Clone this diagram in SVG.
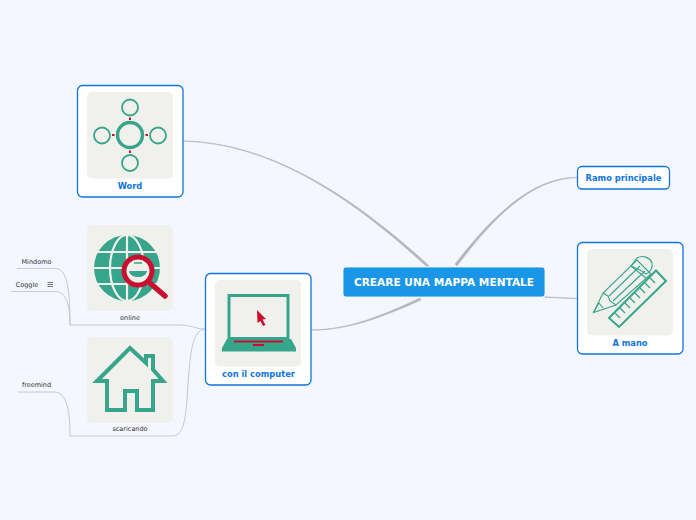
<svg xmlns="http://www.w3.org/2000/svg" width="696" height="520" viewBox="0 0 696 520">
<style>
text{font-family:"DejaVu Sans",Verdana,sans-serif;text-anchor:middle}
.box{fill:#fff;stroke:#0f75dc;stroke-width:1.3}
.pic{fill:#f0f0ec}
.lbl{font-size:8.300px;font-weight:bold;fill:#0f75dc}
.sub{font-size:6.500px;fill:#333}
.main{fill:#b4b6bc;stroke:#b4b6bc;stroke-width:.5;stroke-linejoin:round}
.thin{fill:none;stroke:#c6c9d2;stroke-width:1}
.g{fill:none;stroke:#37a58c}
.r{fill:#c8102e;stroke:none}
</style>
<rect width="696" height="520" fill="#f4f7ff"/>
<g id="connectors">
<path class="main" d="M183 140.800C270 142.800 350 194 429 265.500L427 267C350 196 270 143.300 183 141.300Z"/>
<path class="main" d="M455 264C490 219 530 177.300 577 177.300V177.700C530 178.500 491 221 457 266Z"/>
<path class="main" d="M545 296.800L577 298.200V298.800L545 297.400Z"/>
<path class="main" d="M311 329.800C350 329.800 385 314 420 298L421 300C385 316 350 330.300 311 330.300Z"/>
<path class="thin" d="M205 329C195 329 192 325 180 325L70 325"/>
<path class="thin" d="M205 329C192 331 190 350 187 400C185 425 182 436 172 436L70 436"/>
<path class="thin" d="M17 268.500H56C66 269 70 285 70 325"/>
<path class="thin" d="M11 291.500H56C66 292 70 305 70 325"/>
<path class="thin" d="M18 392H55C65 393 70 405 70 436"/>
</g>
<g id="central"><rect x="343" y="267" width="202" height="30" rx="3" fill="#1a96e8" stroke="#fff" stroke-width=".8"/><text x="444" y="286" font-size="10.600" font-weight="bold" fill="#fff">CREARE UNA MAPPA MENTALE</text></g>
<g id="word"><rect class="box" x="77.500" y="85.500" width="105.500" height="111.500" rx="5"/><rect class="pic" x="87" y="92" width="86" height="86.500" rx="5"/>
<g class="g" stroke-width="1.800"><circle cx="130" cy="107.500" r="8"/><circle cx="130" cy="163" r="8"/><circle cx="102" cy="135.500" r="8"/><circle cx="158" cy="135.500" r="8"/></g>
<circle class="g" stroke-width="3.400" cx="130" cy="135" r="12.500"/>
<g class="r"><rect x="129" y="117.500" width="2" height="2.500"/><rect x="129" y="150.500" width="2" height="2.500"/><rect x="112" y="134" width="2.500" height="2"/><rect x="145.500" y="134" width="2.500" height="2"/></g>
<text class="lbl" x="130" y="189">Word</text></g>
<g id="ramo"><rect class="box" x="577.500" y="166.500" width="92" height="22.500" rx="4.500"/><text class="lbl" x="623.500" y="181">Ramo principale</text></g>
<g id="amano"><rect class="box" x="577.500" y="242.500" width="105.500" height="111.500" rx="5"/><rect class="pic" x="587" y="249" width="86" height="86.500" rx="5"/>
<g class="g" stroke-width="1.100"><path d="M593.500 312.500L603 293L637 260L651 274L616 305Z"/><path d="M603 293L608 296L610 301L616 305M593.500 312.500L599 303L603 308"/><path d="M609 296L640 266M613 301L645 271"/><path d="M631 266L637 258C642 255 650 257 652 263C653 268 650 273 646 274L640 270Z"/><path d="M631 266L646 278"/></g>
<path class="g" stroke-width="2" d="M609 318L656 270.500L666 281L619 327Z"/>
<path class="g" stroke-width="1.400" d="M615 313L620 318M620 308L625 313M625 303L630 308M630 298L635 303M635 293L640 298M640 288L645 293M645 283L650 288M650 278L655 283"/>
<text class="lbl" x="630" y="346">A mano</text></g>
<g id="computer"><rect class="box" x="205.500" y="273.500" width="105.500" height="111.500" rx="5"/><rect class="pic" x="215" y="280" width="86" height="86.500" rx="5"/>
<rect x="229" y="295.500" width="59" height="43" fill="#f0f0ec" stroke="#37a58c" stroke-width="3"/>
<path d="M227 339H291L296 348V351.500H222V348Z" fill="#37a58c"/>
<rect class="r" x="234" y="340.500" width="49" height="2"/><rect class="r" x="253" y="344" width="11" height="2"/>
<path class="r" d="M257 310L266 319L262.500 319.500L265.500 325L263 326L260.500 321L257.500 323Z"/>
<text class="lbl" x="258.500" y="377">con il computer</text></g>
<g id="online"><rect class="pic" x="87" y="225" width="86" height="86" rx="5"/>
<circle cx="127" cy="268" r="33" fill="#37a58c"/>
<g fill="none" stroke="#f0f0ec" stroke-width="2.200"><ellipse cx="127" cy="268" rx="17" ry="33"/><path d="M127 234V302M93 268H161M96 252H158M96 284H158"/></g>
<circle cx="138" cy="271" r="16" fill="#f0f0ec"/><circle cx="138" cy="271" r="14" fill="#f0f0ec" stroke="#c8102e" stroke-width="5"/>
<path d="M129 271H147C146 279 130 279 129 271Z" fill="#37a58c"/><path d="M134 263H142" stroke="#37a58c" stroke-width="1.500"/>
<path d="M150 283L165 296" stroke="#c8102e" stroke-width="5.500" stroke-linecap="round"/>
<text class="sub" x="130" y="320">online</text></g>
<g id="scaricando"><rect class="pic" x="87" y="337" width="86" height="86" rx="5"/>
<path d="M97 381L130 348L146 363V356H153V369.500L163 381H153V410H137V391H125V410H107V381Z" fill="none" stroke="#37a58c" stroke-width="4"/>
<text class="sub" x="130" y="431">scaricando</text></g>
<g id="mindomo"><text class="sub" x="36.500" y="264">Mindomo</text></g>
<g id="coggle"><text class="sub" x="27" y="287">Coggle</text><path d="M47.500 282.500H53M47.500 284.500H53M47.500 286.500H53" stroke="#555" stroke-width=".8" fill="none"/></g>
<g id="freemind"><text class="sub" x="36.500" y="387">freemind</text></g>
</svg>
